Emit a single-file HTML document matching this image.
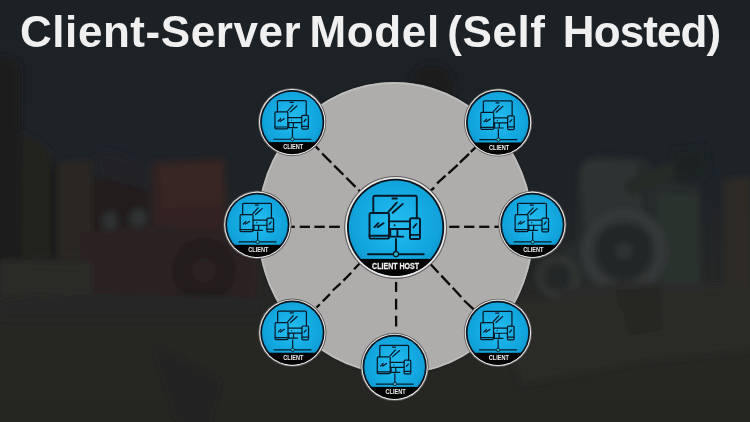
<!DOCTYPE html>
<html><head><meta charset="utf-8">
<style>
html,body{margin:0;padding:0;background:#1e2227;}
body{width:750px;height:422px;overflow:hidden;position:relative;font-family:"Liberation Sans",sans-serif;}
svg{position:absolute;left:0;top:0;display:block;will-change:transform;}
</style></head><body>
<svg width="750" height="422" viewBox="0 0 750 422">
<defs>
  <linearGradient id="sky" x1="0" y1="0" x2="0" y2="1">
    <stop offset="0" stop-color="#1c2126"/>
    <stop offset="0.4" stop-color="#1e2328"/>
    <stop offset="0.6" stop-color="#232627"/>
    <stop offset="0.75" stop-color="#272724"/>
    <stop offset="1" stop-color="#252522"/>
  </linearGradient>
  <filter id="blur1" x="-5%" y="-5%" width="110%" height="110%"><feGaussianBlur stdDeviation="0.8"/></filter>
  <filter id="blur3" x="-10%" y="-10%" width="120%" height="120%"><feGaussianBlur stdDeviation="3"/></filter>
  <radialGradient id="blue" cx="0.5" cy="0.45" r="0.55">
    <stop offset="0" stop-color="#26bef0"/>
    <stop offset="0.5" stop-color="#16aee5"/>
    <stop offset="0.85" stop-color="#11a2da"/>
    <stop offset="1" stop-color="#0c94cc"/>
  </radialGradient>
</defs>

<rect width="750" height="422" fill="url(#sky)"/>
<g filter="url(#blur3)">
  <path d="M-5 55 L8 58 L20 64 L21 262 L-5 262 Z" fill="#1d1c1b"/>
  <path d="M21 132 L50 150 L50 258 L21 260 Z" fill="#23211e"/>
  <path d="M50 166 L61 163 L61 260 L50 260 Z" fill="#1f1e1c"/>
  <path d="M58 163 L92 160 L94 258 L58 260 Z" fill="#2b2824"/>
  <path d="M92 176 L150 186 L150 258 L92 258 Z" fill="#221f1e"/>
  <path d="M95 160 Q98 150 110 151 L135 160 L152 172 L150 192 L128 184 L100 178 Z" fill="#222426"/>
  <path d="M152 162 L225 158 L227 244 L152 246 Z" fill="#312420"/>
  <path d="M160 166 L222 163 L224 205 L162 208 Z" fill="#372824"/>
  <path d="M80 232 L150 226 L240 232 L260 262 L258 304 L80 304 Z" fill="#292221"/>
  <circle cx="204" cy="270" r="32" fill="#231e1d"/>
  <circle cx="204" cy="270" r="12" fill="#2a2321"/>
  <ellipse cx="110" cy="221" rx="8" ry="10" fill="#2e3033"/>
  <ellipse cx="138" cy="218" rx="9" ry="10" fill="#2e3033"/>
  <path d="M0 260 L92 262 L92 296 L0 296 Z" fill="#2b2a27"/>
  <path d="M100 294 L262 298 L262 318 L0 318 L0 300 Z" fill="#282825"/>
  <path d="M578 175 Q580 157 600 156 L640 158 Q652 160 655 178 L700 186 L702 282 L560 290 L560 250 L578 240 Z" fill="#282c2b"/>
  <path d="M580 168 Q584 160 600 160 L636 162 L645 222 L585 226 Z" fill="#2d3130"/>
  <path d="M624 182 L676 160 L680 176 L630 196 Z" fill="#252928"/>
  <path d="M672 150 L706 146 L710 176 L676 180 Z" fill="#1c2021"/>
  <path d="M657 192 L698 196 L702 286 L660 286 Z" fill="#2c302e"/>
  <circle cx="624" cy="251" r="37" fill="none" stroke="#353937" stroke-width="12"/>
  <circle cx="624" cy="251" r="25" fill="#232725"/>
  <circle cx="624" cy="251" r="9" fill="#2e3230"/>
  <circle cx="558" cy="277" r="18" fill="none" stroke="#313533" stroke-width="7"/>
  <circle cx="558" cy="277" r="10" fill="#232725"/>
  <path d="M724 180 L752 176 L752 290 L724 290 Z" fill="#2d2a26"/>
  <path d="M560 290 L620 282 L720 284 L752 290 L752 345 L565 348 Z" fill="#2c2c29"/>
  <path d="M500 300 L752 290 L752 350 L640 362 L520 385 Z" fill="#2b2b28"/>
  <path d="M615 290 L660 286 L662 330 L630 336 Z" fill="#262624"/>
  <path d="M155 347 L219 382 L206 430 L182 430 Z" fill="#222221"/>
  <ellipse cx="432" cy="88" rx="22" ry="24" fill="#1a1e1f"/>
</g>
<g transform="translate(395.5 228.2) rotate(-6.3)"><ellipse cx="0" cy="0" rx="138.4" ry="146.7" fill="#151a1e" opacity="0.5" filter="url(#blur1)"/><ellipse cx="0" cy="0" rx="138" ry="146.3" fill="#afadab"/><ellipse cx="0" cy="0" rx="136.9" ry="145.2" fill="none" stroke="#c3c3c1" stroke-width="1.6" opacity="0.8"/></g>
<g stroke="#0a0a0a" stroke-width="2.3" stroke-linecap="butt"><line x1="291.3" y1="226.8" x2="294.8" y2="226.8"/><line x1="299.7" y1="226.8" x2="309.9" y2="226.8"/><line x1="314.4" y1="226.8" x2="324.8" y2="226.8"/><line x1="329.1" y1="226.8" x2="339.8" y2="226.8"/><line x1="449.2" y1="226.8" x2="459.4" y2="226.8"/><line x1="464.1" y1="226.8" x2="474.4" y2="226.8"/><line x1="479.2" y1="226.8" x2="489.3" y2="226.8"/><line x1="494.4" y1="226.8" x2="499" y2="226.8"/><line x1="396.1" y1="281.9" x2="396.1" y2="291.9"/><line x1="396.1" y1="298.8" x2="396.1" y2="309.6"/><line x1="396.1" y1="315.8" x2="396.1" y2="326.5"/><line x1="314.5" y1="145.2" x2="319.2" y2="150"/><line x1="322.1" y1="153.5" x2="331.3" y2="162.6"/><line x1="334.2" y1="165.6" x2="343.4" y2="174.8"/><line x1="346.3" y1="177.7" x2="355.5" y2="186.9"/><line x1="358.4" y1="189.8" x2="360.5" y2="192"/><line x1="430.2" y1="191" x2="434.2" y2="187.6"/><line x1="437.1" y1="183.4" x2="445.6" y2="175.6"/><line x1="448.4" y1="173.4" x2="457.7" y2="164.9"/><line x1="459.8" y1="162.6" x2="469" y2="153.8"/><line x1="470.8" y1="151.9" x2="477" y2="146"/><line x1="354.1" y1="269.2" x2="360.5" y2="262.5"/><line x1="343.4" y1="280.6" x2="351.2" y2="272.8"/><line x1="332.7" y1="290.5" x2="340.6" y2="283.4"/><line x1="322.8" y1="301.2" x2="329.9" y2="294.1"/><line x1="316.5" y1="307.5" x2="319.8" y2="304.3"/><line x1="429.5" y1="263" x2="438.5" y2="272.8"/><line x1="441.3" y1="275.6" x2="449.9" y2="284.9"/><line x1="452.7" y1="287.7" x2="461.2" y2="297"/><line x1="464.1" y1="300.5" x2="474.5" y2="310.2"/></g>
<g>
<circle cx="395.6" cy="227.4" r="51.5" fill="#625d5d"/>
<circle cx="395.6" cy="227.4" r="50.4" fill="#e8e8e8"/>
<circle cx="395.6" cy="227.4" r="48.6" fill="#08131c"/>
<circle cx="395.6" cy="227.4" r="46.8" fill="url(#blue)"/>
<clipPath id="c395_227"><circle cx="395.6" cy="227.4" r="48.4"/></clipPath>
<rect x="344.1" y="258.9" width="103.0" height="51.5" fill="#040404" clip-path="url(#c395_227)"/>
<g transform="translate(395.6 227.4) scale(1.0)"><g fill="none" stroke="#071827" stroke-width="1.9" stroke-linejoin="round" stroke-linecap="round">
<path d="M-22.3 -14.4 V-30.1 a1.5 1.5 0 0 1 1.5 -1.5 H19.7 a1.5 1.5 0 0 1 1.5 1.5 V-9.2"/>
<path d="M-6.6 -6 H14.4 M-6.6 1.6 H14.4 M-3.2 -28.9 H1.3 M-5.3 1.6 V9.2 M1.8 1.6 V9.2 M-6.6 9.2 H7.7"/>
<path d="M-7 -15.8 L1.2 -24.7 M-2.9 -14.6 L7.2 -23.5"/>
<rect x="-26.1" y="-14.4" width="19.5" height="25.6" rx="1.6"/>
<path d="M-26.1 8.3 H-6.6 M-21.2 -0.3 L-17.3 -4.2 M-18 -0.3 L-12.1 -4.2"/>
<rect x="14.4" y="-9.2" width="10" height="20.8" rx="1.6"/>
<path d="M14.4 7.5 H24.4 M17.8 0.1 L20.8 -3.4"/>
<path d="M0.4 11.6 V23.8 M-27.7 26.8 H-2.3 M3.1 26.8 H28.2"/>
<circle cx="-1" cy="-2.2" r="0.95" fill="#071827" stroke="none"/>
</g>
<circle cx="0.4" cy="26.7" r="2.6" fill="#2cb8c8" stroke="#071827" stroke-width="1.3"/></g>
<text transform="translate(395.6 269.0) scale(0.76 1)" font-family="Liberation Sans" font-weight="bold" font-size="9.3" fill="#f0f0f0" stroke="#f0f0f0" stroke-width="0.25" text-anchor="middle">CLIENT HOST</text>
</g>
<g>
<circle cx="292.2" cy="122.1" r="34.1" fill="#625d5d"/>
<circle cx="292.2" cy="122.1" r="33.2" fill="#e8e8e8"/>
<circle cx="292.2" cy="122.1" r="32.1" fill="#08131c"/>
<circle cx="292.2" cy="122.1" r="30.4" fill="url(#blue)"/>
<clipPath id="c292_122"><circle cx="292.2" cy="122.1" r="31.900000000000002"/></clipPath>
<rect x="258.09999999999997" y="142.1" width="68.2" height="34.1" fill="#040404" clip-path="url(#c292_122)"/>
<g transform="translate(292.2 121.5) scale(0.662)"><g fill="none" stroke="#071827" stroke-width="1.85" stroke-linejoin="round" stroke-linecap="round">
<path d="M-22.3 -14.4 V-30.1 a1.5 1.5 0 0 1 1.5 -1.5 H19.7 a1.5 1.5 0 0 1 1.5 1.5 V-9.2"/>
<path d="M-6.6 -6 H14.4 M-6.6 1.6 H14.4 M-3.2 -28.9 H1.3 M-5.3 1.6 V9.2 M1.8 1.6 V9.2 M-6.6 9.2 H7.7"/>
<path d="M-7 -15.8 L1.2 -24.7 M-2.9 -14.6 L7.2 -23.5"/>
<rect x="-26.1" y="-14.4" width="19.5" height="25.6" rx="1.6"/>
<path d="M-26.1 8.3 H-6.6 M-21.2 -0.3 L-17.3 -4.2 M-18 -0.3 L-12.1 -4.2"/>
<rect x="14.4" y="-9.2" width="10" height="20.8" rx="1.6"/>
<path d="M14.4 7.5 H24.4 M17.8 0.1 L20.8 -3.4"/>
<path d="M0.4 11.6 V23.8 M-27.7 26.8 H-2.3 M3.1 26.8 H28.2"/>
<circle cx="-1" cy="-2.2" r="0.95" fill="#071827" stroke="none"/>
</g>
<circle cx="0.4" cy="26.7" r="2.6" fill="#2cb8c8" stroke="#071827" stroke-width="1.3"/></g>
<text transform="translate(293.2 149.29999999999998) scale(0.86 1)" font-family="Liberation Sans" font-weight="bold" font-size="6.5" fill="#f0f0f0" stroke="#f0f0f0" stroke-width="0.0" text-anchor="middle">CLIENT</text>
</g>
<g>
<circle cx="498.1" cy="122.5" r="34.1" fill="#625d5d"/>
<circle cx="498.1" cy="122.5" r="33.2" fill="#e8e8e8"/>
<circle cx="498.1" cy="122.5" r="32.1" fill="#08131c"/>
<circle cx="498.1" cy="122.5" r="30.4" fill="url(#blue)"/>
<clipPath id="c498_122"><circle cx="498.1" cy="122.5" r="31.900000000000002"/></clipPath>
<rect x="464.0" y="142.5" width="68.2" height="34.1" fill="#040404" clip-path="url(#c498_122)"/>
<g transform="translate(498.1 121.9) scale(0.662)"><g fill="none" stroke="#071827" stroke-width="1.85" stroke-linejoin="round" stroke-linecap="round">
<path d="M-22.3 -14.4 V-30.1 a1.5 1.5 0 0 1 1.5 -1.5 H19.7 a1.5 1.5 0 0 1 1.5 1.5 V-9.2"/>
<path d="M-6.6 -6 H14.4 M-6.6 1.6 H14.4 M-3.2 -28.9 H1.3 M-5.3 1.6 V9.2 M1.8 1.6 V9.2 M-6.6 9.2 H7.7"/>
<path d="M-7 -15.8 L1.2 -24.7 M-2.9 -14.6 L7.2 -23.5"/>
<rect x="-26.1" y="-14.4" width="19.5" height="25.6" rx="1.6"/>
<path d="M-26.1 8.3 H-6.6 M-21.2 -0.3 L-17.3 -4.2 M-18 -0.3 L-12.1 -4.2"/>
<rect x="14.4" y="-9.2" width="10" height="20.8" rx="1.6"/>
<path d="M14.4 7.5 H24.4 M17.8 0.1 L20.8 -3.4"/>
<path d="M0.4 11.6 V23.8 M-27.7 26.8 H-2.3 M3.1 26.8 H28.2"/>
<circle cx="-1" cy="-2.2" r="0.95" fill="#071827" stroke="none"/>
</g>
<circle cx="0.4" cy="26.7" r="2.6" fill="#2cb8c8" stroke="#071827" stroke-width="1.3"/></g>
<text transform="translate(499.1 149.7) scale(0.86 1)" font-family="Liberation Sans" font-weight="bold" font-size="6.5" fill="#f0f0f0" stroke="#f0f0f0" stroke-width="0.0" text-anchor="middle">CLIENT</text>
</g>
<g>
<circle cx="257.4" cy="224.8" r="34.1" fill="#625d5d"/>
<circle cx="257.4" cy="224.8" r="33.2" fill="#e8e8e8"/>
<circle cx="257.4" cy="224.8" r="32.1" fill="#08131c"/>
<circle cx="257.4" cy="224.8" r="30.4" fill="url(#blue)"/>
<clipPath id="c257_224"><circle cx="257.4" cy="224.8" r="31.900000000000002"/></clipPath>
<rect x="223.29999999999998" y="244.8" width="68.2" height="34.1" fill="#040404" clip-path="url(#c257_224)"/>
<g transform="translate(257.4 224.20000000000002) scale(0.662)"><g fill="none" stroke="#071827" stroke-width="1.85" stroke-linejoin="round" stroke-linecap="round">
<path d="M-22.3 -14.4 V-30.1 a1.5 1.5 0 0 1 1.5 -1.5 H19.7 a1.5 1.5 0 0 1 1.5 1.5 V-9.2"/>
<path d="M-6.6 -6 H14.4 M-6.6 1.6 H14.4 M-3.2 -28.9 H1.3 M-5.3 1.6 V9.2 M1.8 1.6 V9.2 M-6.6 9.2 H7.7"/>
<path d="M-7 -15.8 L1.2 -24.7 M-2.9 -14.6 L7.2 -23.5"/>
<rect x="-26.1" y="-14.4" width="19.5" height="25.6" rx="1.6"/>
<path d="M-26.1 8.3 H-6.6 M-21.2 -0.3 L-17.3 -4.2 M-18 -0.3 L-12.1 -4.2"/>
<rect x="14.4" y="-9.2" width="10" height="20.8" rx="1.6"/>
<path d="M14.4 7.5 H24.4 M17.8 0.1 L20.8 -3.4"/>
<path d="M0.4 11.6 V23.8 M-27.7 26.8 H-2.3 M3.1 26.8 H28.2"/>
<circle cx="-1" cy="-2.2" r="0.95" fill="#071827" stroke="none"/>
</g>
<circle cx="0.4" cy="26.7" r="2.6" fill="#2cb8c8" stroke="#071827" stroke-width="1.3"/></g>
<text transform="translate(258.4 252.0) scale(0.86 1)" font-family="Liberation Sans" font-weight="bold" font-size="6.5" fill="#f0f0f0" stroke="#f0f0f0" stroke-width="0.0" text-anchor="middle">CLIENT</text>
</g>
<g>
<circle cx="532.4" cy="224.8" r="34.1" fill="#625d5d"/>
<circle cx="532.4" cy="224.8" r="33.2" fill="#e8e8e8"/>
<circle cx="532.4" cy="224.8" r="32.1" fill="#08131c"/>
<circle cx="532.4" cy="224.8" r="30.4" fill="url(#blue)"/>
<clipPath id="c532_224"><circle cx="532.4" cy="224.8" r="31.900000000000002"/></clipPath>
<rect x="498.29999999999995" y="244.8" width="68.2" height="34.1" fill="#040404" clip-path="url(#c532_224)"/>
<g transform="translate(532.4 224.20000000000002) scale(0.662)"><g fill="none" stroke="#071827" stroke-width="1.85" stroke-linejoin="round" stroke-linecap="round">
<path d="M-22.3 -14.4 V-30.1 a1.5 1.5 0 0 1 1.5 -1.5 H19.7 a1.5 1.5 0 0 1 1.5 1.5 V-9.2"/>
<path d="M-6.6 -6 H14.4 M-6.6 1.6 H14.4 M-3.2 -28.9 H1.3 M-5.3 1.6 V9.2 M1.8 1.6 V9.2 M-6.6 9.2 H7.7"/>
<path d="M-7 -15.8 L1.2 -24.7 M-2.9 -14.6 L7.2 -23.5"/>
<rect x="-26.1" y="-14.4" width="19.5" height="25.6" rx="1.6"/>
<path d="M-26.1 8.3 H-6.6 M-21.2 -0.3 L-17.3 -4.2 M-18 -0.3 L-12.1 -4.2"/>
<rect x="14.4" y="-9.2" width="10" height="20.8" rx="1.6"/>
<path d="M14.4 7.5 H24.4 M17.8 0.1 L20.8 -3.4"/>
<path d="M0.4 11.6 V23.8 M-27.7 26.8 H-2.3 M3.1 26.8 H28.2"/>
<circle cx="-1" cy="-2.2" r="0.95" fill="#071827" stroke="none"/>
</g>
<circle cx="0.4" cy="26.7" r="2.6" fill="#2cb8c8" stroke="#071827" stroke-width="1.3"/></g>
<text transform="translate(533.4 252.0) scale(0.86 1)" font-family="Liberation Sans" font-weight="bold" font-size="6.5" fill="#f0f0f0" stroke="#f0f0f0" stroke-width="0.0" text-anchor="middle">CLIENT</text>
</g>
<g>
<circle cx="292.4" cy="332.7" r="34.1" fill="#625d5d"/>
<circle cx="292.4" cy="332.7" r="33.2" fill="#e8e8e8"/>
<circle cx="292.4" cy="332.7" r="32.1" fill="#08131c"/>
<circle cx="292.4" cy="332.7" r="30.4" fill="url(#blue)"/>
<clipPath id="c292_332"><circle cx="292.4" cy="332.7" r="31.900000000000002"/></clipPath>
<rect x="258.29999999999995" y="352.7" width="68.2" height="34.1" fill="#040404" clip-path="url(#c292_332)"/>
<g transform="translate(292.4 332.09999999999997) scale(0.662)"><g fill="none" stroke="#071827" stroke-width="1.85" stroke-linejoin="round" stroke-linecap="round">
<path d="M-22.3 -14.4 V-30.1 a1.5 1.5 0 0 1 1.5 -1.5 H19.7 a1.5 1.5 0 0 1 1.5 1.5 V-9.2"/>
<path d="M-6.6 -6 H14.4 M-6.6 1.6 H14.4 M-3.2 -28.9 H1.3 M-5.3 1.6 V9.2 M1.8 1.6 V9.2 M-6.6 9.2 H7.7"/>
<path d="M-7 -15.8 L1.2 -24.7 M-2.9 -14.6 L7.2 -23.5"/>
<rect x="-26.1" y="-14.4" width="19.5" height="25.6" rx="1.6"/>
<path d="M-26.1 8.3 H-6.6 M-21.2 -0.3 L-17.3 -4.2 M-18 -0.3 L-12.1 -4.2"/>
<rect x="14.4" y="-9.2" width="10" height="20.8" rx="1.6"/>
<path d="M14.4 7.5 H24.4 M17.8 0.1 L20.8 -3.4"/>
<path d="M0.4 11.6 V23.8 M-27.7 26.8 H-2.3 M3.1 26.8 H28.2"/>
<circle cx="-1" cy="-2.2" r="0.95" fill="#071827" stroke="none"/>
</g>
<circle cx="0.4" cy="26.7" r="2.6" fill="#2cb8c8" stroke="#071827" stroke-width="1.3"/></g>
<text transform="translate(293.4 359.9) scale(0.86 1)" font-family="Liberation Sans" font-weight="bold" font-size="6.5" fill="#f0f0f0" stroke="#f0f0f0" stroke-width="0.0" text-anchor="middle">CLIENT</text>
</g>
<g>
<circle cx="497.9" cy="332.8" r="34.1" fill="#625d5d"/>
<circle cx="497.9" cy="332.8" r="33.2" fill="#e8e8e8"/>
<circle cx="497.9" cy="332.8" r="32.1" fill="#08131c"/>
<circle cx="497.9" cy="332.8" r="30.4" fill="url(#blue)"/>
<clipPath id="c497_332"><circle cx="497.9" cy="332.8" r="31.900000000000002"/></clipPath>
<rect x="463.79999999999995" y="352.8" width="68.2" height="34.1" fill="#040404" clip-path="url(#c497_332)"/>
<g transform="translate(497.9 332.2) scale(0.662)"><g fill="none" stroke="#071827" stroke-width="1.85" stroke-linejoin="round" stroke-linecap="round">
<path d="M-22.3 -14.4 V-30.1 a1.5 1.5 0 0 1 1.5 -1.5 H19.7 a1.5 1.5 0 0 1 1.5 1.5 V-9.2"/>
<path d="M-6.6 -6 H14.4 M-6.6 1.6 H14.4 M-3.2 -28.9 H1.3 M-5.3 1.6 V9.2 M1.8 1.6 V9.2 M-6.6 9.2 H7.7"/>
<path d="M-7 -15.8 L1.2 -24.7 M-2.9 -14.6 L7.2 -23.5"/>
<rect x="-26.1" y="-14.4" width="19.5" height="25.6" rx="1.6"/>
<path d="M-26.1 8.3 H-6.6 M-21.2 -0.3 L-17.3 -4.2 M-18 -0.3 L-12.1 -4.2"/>
<rect x="14.4" y="-9.2" width="10" height="20.8" rx="1.6"/>
<path d="M14.4 7.5 H24.4 M17.8 0.1 L20.8 -3.4"/>
<path d="M0.4 11.6 V23.8 M-27.7 26.8 H-2.3 M3.1 26.8 H28.2"/>
<circle cx="-1" cy="-2.2" r="0.95" fill="#071827" stroke="none"/>
</g>
<circle cx="0.4" cy="26.7" r="2.6" fill="#2cb8c8" stroke="#071827" stroke-width="1.3"/></g>
<text transform="translate(498.9 360.0) scale(0.86 1)" font-family="Liberation Sans" font-weight="bold" font-size="6.5" fill="#f0f0f0" stroke="#f0f0f0" stroke-width="0.0" text-anchor="middle">CLIENT</text>
</g>
<g>
<circle cx="394.6" cy="366.9" r="34.1" fill="#625d5d"/>
<circle cx="394.6" cy="366.9" r="33.2" fill="#e8e8e8"/>
<circle cx="394.6" cy="366.9" r="32.1" fill="#08131c"/>
<circle cx="394.6" cy="366.9" r="30.4" fill="url(#blue)"/>
<clipPath id="c394_366"><circle cx="394.6" cy="366.9" r="31.900000000000002"/></clipPath>
<rect x="360.5" y="386.9" width="68.2" height="34.1" fill="#040404" clip-path="url(#c394_366)"/>
<g transform="translate(394.6 366.29999999999995) scale(0.662)"><g fill="none" stroke="#071827" stroke-width="1.85" stroke-linejoin="round" stroke-linecap="round">
<path d="M-22.3 -14.4 V-30.1 a1.5 1.5 0 0 1 1.5 -1.5 H19.7 a1.5 1.5 0 0 1 1.5 1.5 V-9.2"/>
<path d="M-6.6 -6 H14.4 M-6.6 1.6 H14.4 M-3.2 -28.9 H1.3 M-5.3 1.6 V9.2 M1.8 1.6 V9.2 M-6.6 9.2 H7.7"/>
<path d="M-7 -15.8 L1.2 -24.7 M-2.9 -14.6 L7.2 -23.5"/>
<rect x="-26.1" y="-14.4" width="19.5" height="25.6" rx="1.6"/>
<path d="M-26.1 8.3 H-6.6 M-21.2 -0.3 L-17.3 -4.2 M-18 -0.3 L-12.1 -4.2"/>
<rect x="14.4" y="-9.2" width="10" height="20.8" rx="1.6"/>
<path d="M14.4 7.5 H24.4 M17.8 0.1 L20.8 -3.4"/>
<path d="M0.4 11.6 V23.8 M-27.7 26.8 H-2.3 M3.1 26.8 H28.2"/>
<circle cx="-1" cy="-2.2" r="0.95" fill="#071827" stroke="none"/>
</g>
<circle cx="0.4" cy="26.7" r="2.6" fill="#2cb8c8" stroke="#071827" stroke-width="1.3"/></g>
<text transform="translate(395.6 394.09999999999997) scale(0.86 1)" font-family="Liberation Sans" font-weight="bold" font-size="6.5" fill="#f0f0f0" stroke="#f0f0f0" stroke-width="0.0" text-anchor="middle">CLIENT</text>
</g>
<g font-family="Liberation Sans" font-weight="bold" font-size="44" fill="#f0f0f0"><text x="20" y="46.8" letter-spacing="0.56">Client-Server</text><text x="309.5" y="46.8" letter-spacing="0.65">Model</text><text x="447.3" y="46.8" letter-spacing="0.55">(Self</text><text x="562.8" y="46.8" letter-spacing="-0.9">Hosted)</text></g>
</svg>
</body></html>
